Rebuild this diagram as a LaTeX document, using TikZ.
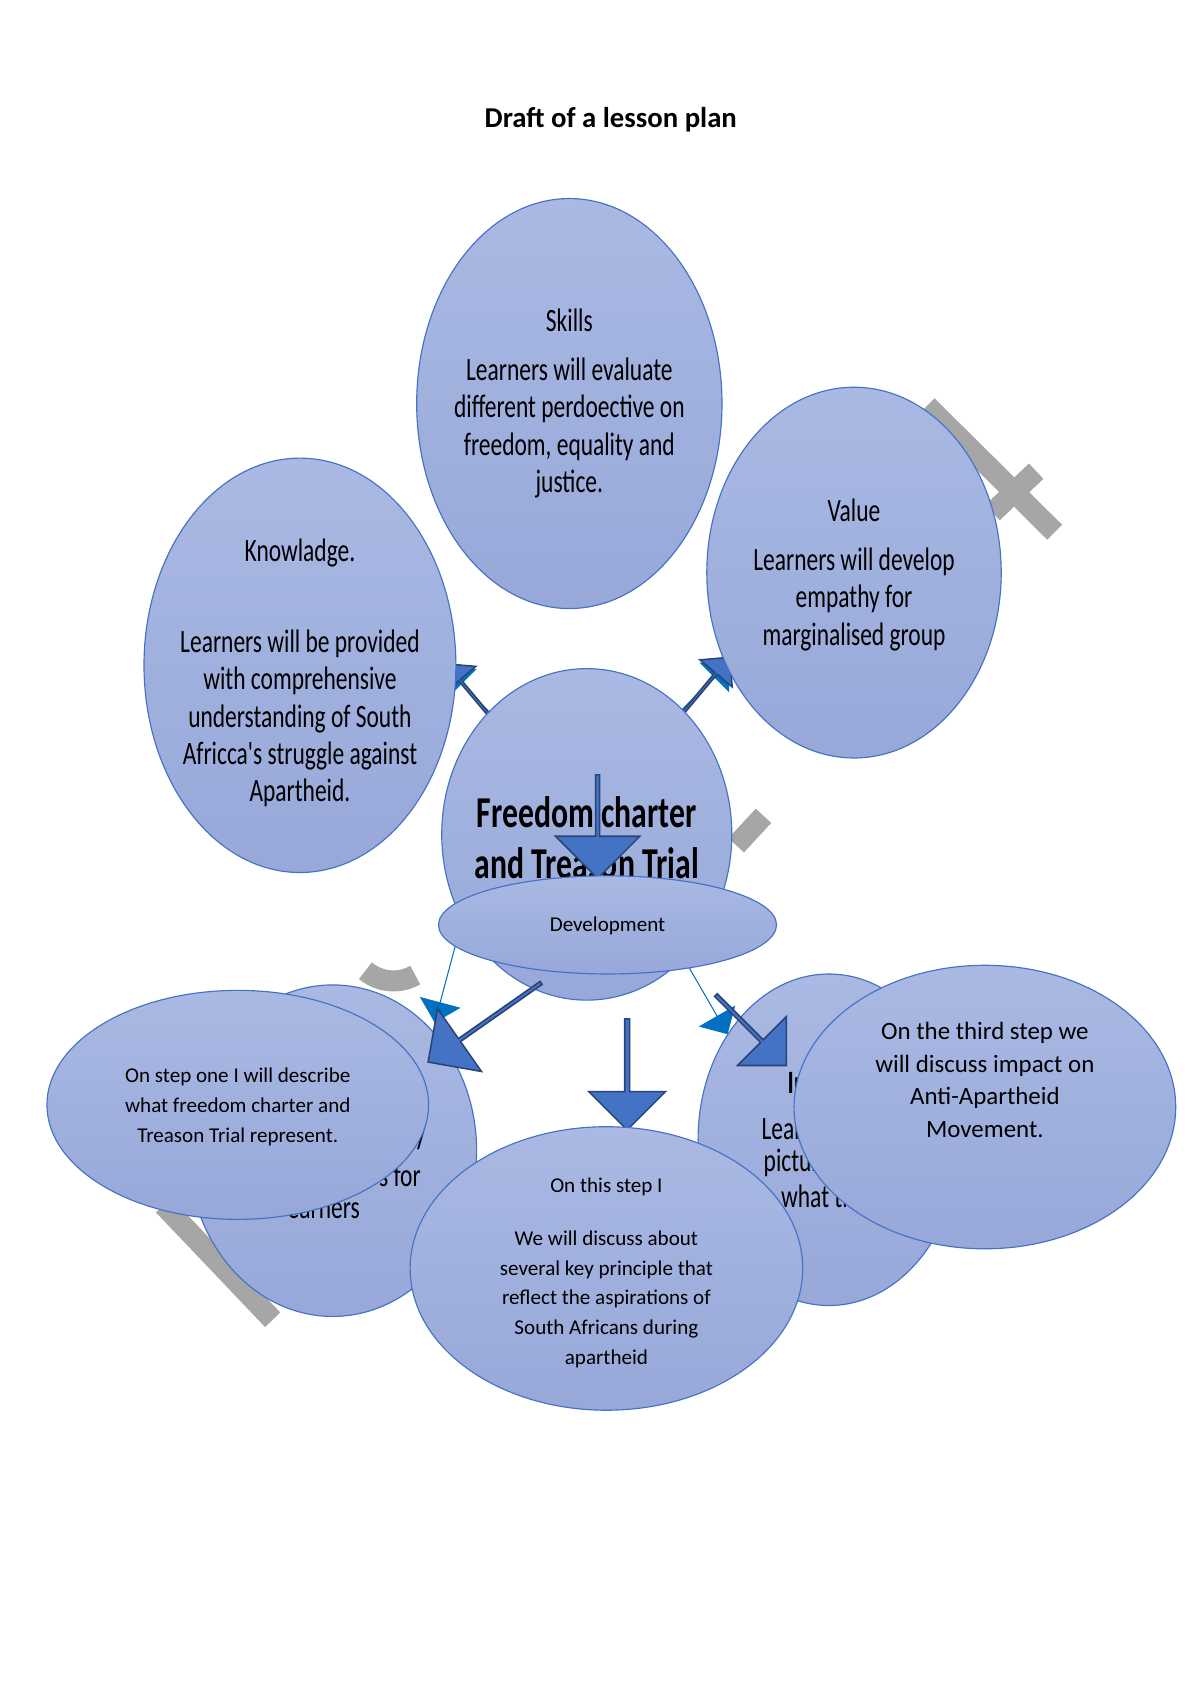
\documentclass[tikz,border=0pt]{standalone}
\usepackage{fontspec}
\setmainfont{Carlito}
\newfontfamily\narrowf[FakeStretch=0.72]{Carlito}
\usetikzlibrary{shapes.arrows,shapes.geometric}
\definecolor{eb}{HTML}{4472C4}
\definecolor{lb}{HTML}{0070C0}
\definecolor{et}{HTML}{AAB9E3}
\definecolor{ebot}{HTML}{97A8D9}
\definecolor{gr}{HTML}{A6A6A6}
\begin{document}
\begin{tikzpicture}[x=0.02cm,y=-0.02cm,
  ell/.style={ellipse,draw=eb,line width=0.6pt,top color=et,bottom color=ebot,inner sep=0pt},
  barr/.style={single arrow,draw=eb!60!black,fill=eb,line width=0.8pt,single arrow head extend=14pt,inner sep=0pt,minimum width=34pt},
  larr/.style={single arrow,fill=lb,single arrow head extend=8pt,inner sep=0pt,minimum width=22pt},
  big/.style={font=\narrowf\fontsize{17}{19.5}\selectfont,align=center,text=black},
  sm/.style={font=\fontsize{11}{15.5}\selectfont,align=center,text=black},
  wm/.style={draw=gr,line width=11pt}]
\useasboundingbox (0,0) rectangle (1100,1555);
\node[font=\bfseries\fontsize{15}{18}\selectfont] (title) at (560,110) {Draft of a lesson plan};
% watermark fragments
\draw[wm] (850,372) -- (967,488);
\draw[wm] (910,470) -- (950,432);
\draw[wm] (660,570) arc (200:250:90);
\draw[wm] (675,775) -- (700,748);
\draw[wm] (150,1105) -- (250,1210);
\draw[wm] (335,890) arc (130:60:40);
% top ellipses
\node[ell,minimum width=5.6cm,minimum height=7.52cm] (skills) at (522,370) {};
\node[big] at (522,370) {Skills\\[6pt]Learners will evaluate\\different perdoective on\\freedom, equality and\\justice.};
\node[larr,rotate=135,minimum height=36pt] (a1) at (432,636) {};
\node[larr,rotate=45,minimum height=36pt] (a2) at (646,630) {};
\node[barr,rotate=130,minimum height=40pt,minimum width=22pt,single arrow head extend=6pt] (a1b) at (432,636) {};
\node[barr,rotate=50,minimum height=40pt,minimum width=22pt,single arrow head extend=6pt] (a2b) at (646,630) {};
\node[ell,minimum width=5.4cm,minimum height=6.8cm] (value) at (783,525) {};
\node[big] at (783,527) {Value\\[6pt]Learners will develop\\empathy for\\marginalised group};
\node[ell,minimum width=5.72cm,minimum height=7.6cm] (know) at (275,610) {};
\node[big] at (275,617) {Knowladge.\\[28pt]Learners will be provided\\with comprehensive\\understanding of South\\Africca's struggle against\\Apartheid.};
\node[ell,minimum width=5.32cm,minimum height=6.08cm] (center) at (538,765) {};
\node[font=\narrowf\bfseries\fontsize{23}{27}\selectfont,align=center] (ctext) at (538,768) {Freedom charter\\and Treason Trial};
\node[barr,rotate=-90,minimum height=54pt,minimum width=44pt,single arrow head extend=8pt] (a0) at (548,757) {};
% light arrows behind
\node[larr,rotate=-105,minimum height=50pt] (l1) at (410,895) {};
\node[larr,rotate=-60,minimum height=50pt] (l2) at (645,910) {};
\node[ell,minimum width=6.2cm,minimum height=1.8cm] (dev) at (557,848) {};
\node[sm] at (557,849) {Development};
% back ellipses
\node[ell,minimum width=5.28cm,minimum height=6.08cm] (lback) at (305,1055) {};
\node[big,anchor=east] at (396,1045) {y};
\node[big,anchor=east] at (392,1078) {s for};
\node[big,anchor=east] at (336,1110) {earners};
\node[ell,minimum width=4.8cm,minimum height=6.08cm] (rback) at (760,1045) {};
\node[big,anchor=west,font=\narrowf\bfseries\fontsize{17}{19}\selectfont] at (716,993) {In};
\node[big,anchor=west] at (692,1035) {Learn};
\node[big,anchor=west] at (694,1066) {picture.};
\node[big,anchor=west] at (710,1097) {what the};
\node[ell,minimum width=7cm,minimum height=4.2cm] (step1) at (218,1013) {};
\node[sm] at (218,1015) {On step one I will describe\\what freedom charter and\\Treason Trial represent.};
\node[ell,minimum width=7cm,minimum height=5.2cm] (step3) at (903,1015) {};
\node[sm,font=\fontsize{13}{17}\selectfont] at (903,990) {On the third step we\\will discuss impact on\\Anti-Apartheid\\Movement.};
\node[barr,rotate=-145,minimum height=72pt,minimum width=40pt,single arrow head extend=8pt] (a3) at (445,937) {};
\node[barr,rotate=-90,minimum height=58pt,minimum width=40pt,single arrow head extend=6pt] (a4) at (575,984) {};
\node[barr,rotate=-45,minimum height=52pt,minimum width=36pt,single arrow head extend=7pt] (a5) at (688,944) {};
\node[ell,minimum width=7.2cm,minimum height=5.2cm] (step2) at (556,1163) {};
\node[sm] at (556,1167) {On this step I\\[12pt]We will discuss about\\several key principle that\\reflect the aspirations of\\South Africans during\\apartheid};
\end{tikzpicture}
\end{document}
